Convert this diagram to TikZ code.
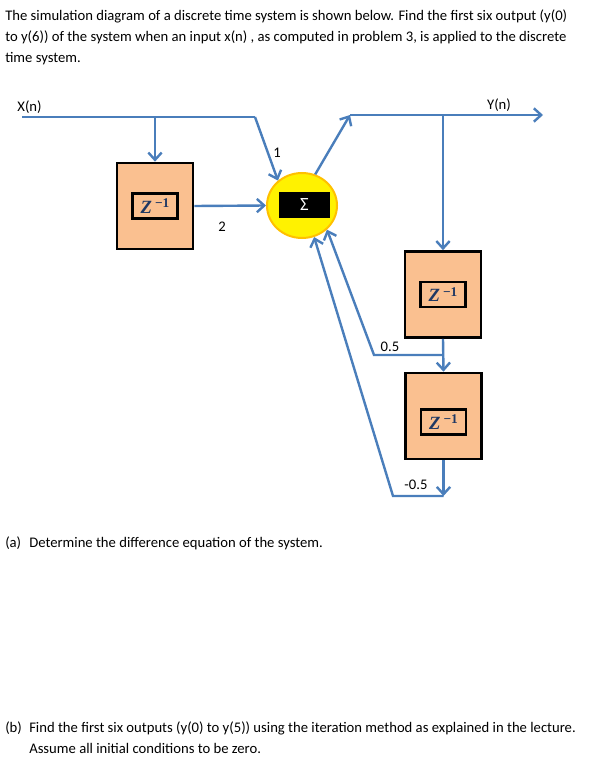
\documentclass[tikz,border=0pt]{standalone}
\usepackage{fontspec}
\setmainfont{Carlito}
\newfontfamily\zfont{Liberation Serif}
\usetikzlibrary{arrows.meta,shapes.geometric}
\definecolor{lineblue}{HTML}{4A7EBB}
\definecolor{peach}{HTML}{FAC090}
\definecolor{ringorange}{HTML}{FFC000}
\definecolor{zblue}{HTML}{1F3864}
\newcommand{\zinv}{\textit{Z}\,\raisebox{0.3em}{\fontsize{10}{10}\selectfont −1}}
\tikzset{
  sig/.style={draw=lineblue,line width=1.8pt},
  tip/.style={-{Straight Barb[length=5.5pt,width=10pt]}},
  delaybox/.style={draw=black,line width=2pt,fill=peach,
    minimum width=57pt,minimum height=64.5pt,inner sep=0pt},
  zbox/.style={draw=black,line width=1.8pt,fill=peach,
    minimum width=33.75pt,minimum height=18.75pt,inner sep=0pt,
    text=zblue,font=\zfont\bfseries\fontsize{14}{14}\selectfont},
  lbl/.style={inner sep=0pt,font=\fontsize{11}{13}\selectfont},
  para/.style={anchor=base west,inner sep=0pt,font=\fontsize{11}{13}\selectfont}
}

\begin{document}
\begin{tikzpicture}[x=0.75pt,y=-0.75pt]
  \useasboundingbox (0,0) rectangle (593,781);
  % question text
  \node[para] (q1) at (5,20.5) {The simulation diagram of a discrete time system is shown below. Find the first six output (y(0)};
  \node[para] (q2) at (5,41.5) {to y(6)) of the system when an input x(n) , as computed in problem 3, is applied to the discrete};
  \node[para] (q3) at (5,62.5) {time system.};
  \node[para] (qa) at (5,547) {(a)};
  \node[para] (qat) at (29,547) {Determine the difference equation of the system.};
  \node[para] (qb) at (5,732) {(b)};
  \node[para] (qbt) at (29,732) {Find the first six outputs (y(0) to y(5)) using the iteration method as explained in the lecture.};
  \node[para] (qbt2) at (29,753) {Assume all initial conditions to be zero.};
  % blocks
  \node[delaybox] (d1) at (155,206) {};
  \node[zbox] (z1) at (155,206) {\zinv};
  \node[delaybox] (d2) at (443,294.5) {};
  \node[zbox] (z2) at (443,294.5) {\zinv};
  \node[delaybox] (d3) at (443.5,416) {};
  \node[zbox] (z3) at (443.5,422) {\zinv};
  \node[ellipse,draw=ringorange,line width=1.5pt,fill=yellow,
    minimum width=52.5pt,minimum height=48.75pt] (sum) at (302,205.5) {};
  \node[fill=black,text=white,minimum width=38.25pt,minimum height=19.5pt,
    inner sep=0pt,font=\fontsize{14}{14}\selectfont] (sigma) at (304.5,205) {Σ};
  % input side
  \coordinate (xin) at (22,117);
  \coordinate (xj) at (155,117);
  \coordinate (xc) at (255,117);
  \draw[sig] (xin) -- (xc);
  \draw[sig,tip] (xc) -- (sum.134);
  \draw[sig,tip] (xj) -- (d1.north);
  \draw[sig,tip] (d1.east) -- (sum.west);
  % output side
  \coordinate (yc) at (350,115);
  \coordinate (yj) at (443,115);
  \coordinate (yout) at (543,115);
  \draw[sig,tip] (sum.67) -- (yc);
  \draw[sig,tip] (yc) -- (yout);
  \draw[sig,tip] (yj) -- (d2.north);
  \draw[sig,tip] (d2.south) -- (d3.north);
  % feedback
  \coordinate (j1) at (443,355);
  \coordinate (c1) at (374,355);
  \draw[sig,tip] (j1) -- (c1) -- (sum.-44);
  \coordinate (j2) at (443.5,496);
  \coordinate (c2) at (393,496);
  \draw[sig,tip] (d3.south) -- (j2);
  \draw[sig,tip] (j2) -- (c2) -- (sum.-69);
  % labels
  \node[lbl] (lx) at (29.5,107) {X(n)};
  \node[lbl] (ly) at (499,105) {Y(n)};
  \node[lbl] (l1) at (277,153) {1};
  \node[lbl] (l2) at (222,227) {2};
  \node[lbl] (l05) at (390,347) {0.5};
  \node[lbl] (lm05) at (416,485) {-0.5};
\end{tikzpicture}
\end{document}
